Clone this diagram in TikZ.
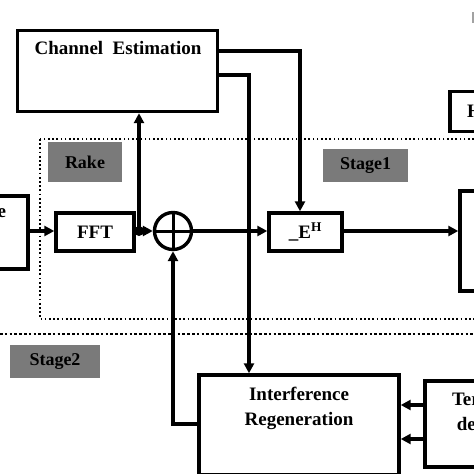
\documentclass[tikz,border=0pt]{standalone}
\usepackage{fontspec}
\setmainfont{Liberation Serif}
\usetikzlibrary{arrows.meta}
\definecolor{labelgray}{RGB}{122,122,122}
\begin{document}
\begin{tikzpicture}[x=1pt,y=-1pt,line width=3.4pt,
        every node/.style = {font=\fontsize{19}{25}\selectfont\bfseries},
        block/.style = {draw, rectangle, inner sep=0pt},
        tag/.style = {fill=labelgray, inner sep=0pt, font=\fontsize{18}{22}\selectfont\bfseries},
        arr/.style = {-{Triangle[length=10pt,width=10pt]}}]

        \useasboundingbox (0,0) rectangle (474,474);
        \clip (0,0) rectangle (474,474);

        % Stage borders
        \draw[line width=1.7pt, dash pattern=on 1.7pt off 2.5pt] (40,139) rectangle (520,319);
        \draw[line width=2.8pt, dash pattern=on 2.6pt off 2.2pt] (0,334) -- (474,334);

        % Labels
        \node[tag, minimum width=74pt, minimum height=40pt] (rake) at (85,162) {Rake};
        \node[tag, minimum width=85pt, minimum height=33pt] (stage1) at (365.5,165.5) {Stage1};
        \node[tag, minimum width=90pt, minimum height=33pt] (stage2) at (55,361.5) {Stage2};
        \fill[labelgray!70] (472,12) rectangle (490,23);

        % Channel estimation
        \node[block, minimum width=200pt, minimum height=81pt] (ce) at (117.5,71) {};
        \node (cetext) at (118,48) {Channel\ \ Estimation};

        % Input block
        \node[block, minimum width=80pt, minimum height=73pt] (src) at (-12,232.5) {};
        \node[anchor=east] (srctext) at (11,213) {e};

        % Rake receiver
        \node[block, minimum width=78pt, minimum height=38pt] (fft) at (95,232) {FFT};
        \node[draw, circle, minimum size=37pt, inner sep=0pt] (sum) at (173,231) {};
        \draw[line width=3pt] (sum.north) -- (sum.south);
        \draw[line width=3pt] (sum.west) -- (sum.east);
        \node[block, minimum width=73pt, minimum height=38pt] (eh) at (305.5,232) {\_E\textsuperscript{H}};

        % Right side blocks
        \node[block, minimum width=60pt, minimum height=100pt] (rb) at (490,241) {};
        \node[block, minimum width=60pt, minimum height=40pt] (hb) at (480,111.5) {};
        \node[anchor=west] (hbtext) at (462,111) {H};

        % Stage 2
        \node[block, minimum width=200pt, minimum height=100pt] (ir) at (299,425) {};
        \node[align=center] (irtext) at (299,408) {Interference\\Regeneration};
        \node[block, minimum width=80pt, minimum height=86pt] (td) at (465,424) {};
        \node[anchor=west, align=left] (tdtext) at (447,412) {Ter\\\ de};

        % Connections
        \coordinate (j) at (139,231);
        \draw[arr] (src.east |- j) -- (fft.west |- j);
        \draw[arr] (fft.east |- j) -- (sum.west);
        \fill (j) circle (5pt);
        \draw[arr] (j) -- (ce.south -| j);
        \draw[arr] (sum.east) -- (eh.west |- sum.east);
        \draw[arr] (eh.east |- sum.east) -- (rb.west |- sum.east);
        \draw[arr] (ce.east |- 0,51) -| ([xshift=-5.5pt]eh.north);
        \draw[arr] (ce.east |- 0,75) -| (ir.north -| 249,0);
        \draw[arr] (ir.west |- 0,424) -| (sum.south);
        \draw[arr] (td.west |- 0,405) -- (ir.east |- 0,405);
        \draw[arr] (td.west |- 0,439) -- (ir.east |- 0,439);

    \end{tikzpicture}
\end{document}
